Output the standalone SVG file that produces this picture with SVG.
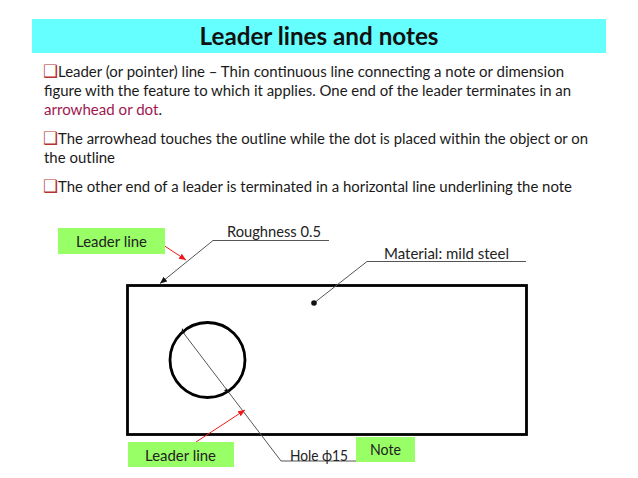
<svg xmlns="http://www.w3.org/2000/svg" width="638" height="478" viewBox="0 0 638 478">
<defs>
<style>
text{font-family:"Lato","Liberation Sans",sans-serif;font-size:15.5px;fill:#1a1a1a}
.title{font-size:25px;font-weight:700;fill:#111}
.bul{font-family:"DejaVu Sans",sans-serif;font-size:17px;fill:#b83232}
.lab{font-size:15px;fill:#222}
.tag{fill:#99ff66}
.thin{fill:none;stroke:#555;stroke-width:1}
.red{fill:none;stroke:#f01818;stroke-width:1}
.thick{fill:none;stroke:#000;stroke-width:2.8}
</style>
<marker id="ak" markerWidth="8" markerHeight="8" refX="7" refY="3" orient="auto" markerUnits="userSpaceOnUse"><path d="M0 0L7 3L0 6Z" fill="#111"/></marker>
<marker id="ar" markerWidth="8" markerHeight="8" refX="7" refY="3" orient="auto" markerUnits="userSpaceOnUse"><path d="M0 0L7 3L0 6Z" fill="#f01818"/></marker>
</defs>
<rect width="638" height="478" fill="#fff"/>
<g id="header"><rect x="32" y="19" width="574" height="34" fill="#66ffff"/>
<text class="title" x="319" y="45" text-anchor="middle" textLength="239" lengthAdjust="spacingAndGlyphs">Leader lines and notes</text></g>
<g id="body">
<text class="bul" x="43" y="77">❑</text>
<text x="58" y="77" textLength="506" lengthAdjust="spacingAndGlyphs">Leader (or pointer) line – Thin continuous line connecting a note or dimension</text>
<text x="44" y="96" textLength="527" lengthAdjust="spacingAndGlyphs">figure with the feature to which it applies. One end of the leader terminates in an</text>
<text x="44" y="115" textLength="118" lengthAdjust="spacingAndGlyphs"><tspan fill="#a0174f">arrowhead or dot</tspan>.</text>
<text class="bul" x="43" y="144">❑</text>
<text x="58" y="144" textLength="530" lengthAdjust="spacingAndGlyphs">The arrowhead touches the outline while the dot is placed within the object or on</text>
<text x="44" y="163" textLength="71" lengthAdjust="spacingAndGlyphs">the outline</text>
<text class="bul" x="43" y="192">❑</text>
<text x="58" y="192" textLength="514" lengthAdjust="spacingAndGlyphs">The other end of a leader is terminated in a horizontal line underlining the note</text>
</g>
<g id="part"><rect class="thick" x="127.500" y="285.500" width="399" height="149"/>
<circle class="thick" cx="207.500" cy="360" r="37.500"/></g>
<g id="connectors">
<path class="thin" d="M329 240.500H213L160 283.500" marker-end="url(#ak)"/>
<path class="thin" d="M526 261.500H367L314 303"/>
<circle cx="314" cy="303" r="2.800" fill="#111"/>
<path class="thin" d="M356 461H281L182 331" />
<path d="M182 328l3 5-3.500 1z M229 393l-5-2.500 3-2z" fill="#111"/>
<path class="red" d="M154 239L186 260" marker-end="url(#ar)"/>
<path class="red" d="M196 442L245 410" marker-end="url(#ar)"/>
</g>
<g id="tag-top"><rect class="tag" x="58" y="228" width="107" height="26"/><text class="lab" x="76" y="247" textLength="71" lengthAdjust="spacingAndGlyphs">Leader line</text></g>
<g id="tag-bottom"><rect class="tag" x="128" y="442" width="106" height="25"/><text class="lab" x="145" y="461" textLength="71" lengthAdjust="spacingAndGlyphs">Leader line</text></g>
<g id="tag-note"><rect class="tag" x="356" y="437" width="59" height="25"/><text class="lab" x="370" y="455" textLength="31" lengthAdjust="spacingAndGlyphs">Note</text></g>
<g id="note-roughness"><text class="lab" x="227" y="237" textLength="94" lengthAdjust="spacingAndGlyphs">Roughness 0.5</text></g>
<g id="note-material"><text class="lab" x="384" y="259" textLength="125" lengthAdjust="spacingAndGlyphs">Material: mild steel</text></g>
<g id="note-hole"><text class="lab" x="290" y="461" textLength="58" lengthAdjust="spacingAndGlyphs">Hole ϕ15</text></g>
</svg>
